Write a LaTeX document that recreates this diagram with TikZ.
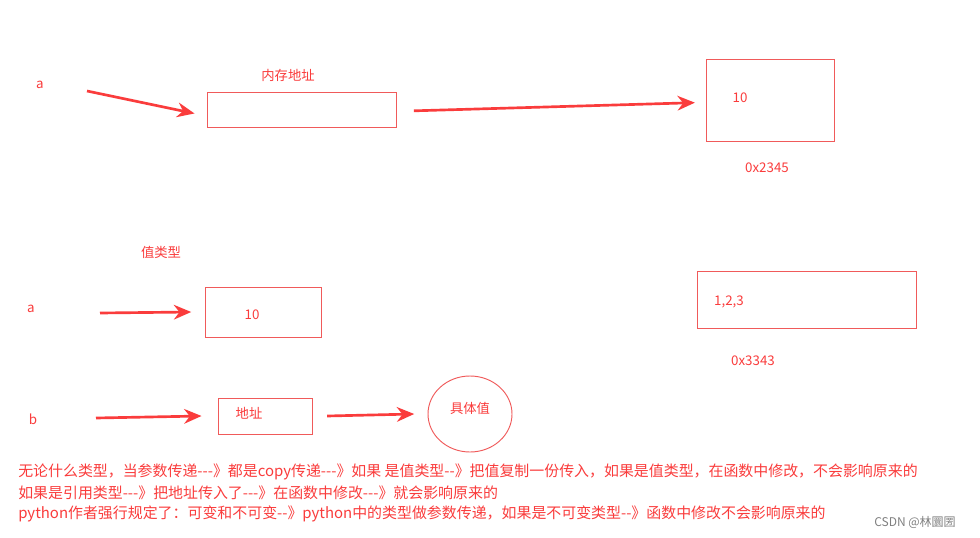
\documentclass[tikz,border=0pt]{standalone}
\usepackage{fontspec}
\setmainfont{Noto Sans CJK SC}
\usetikzlibrary{arrows.meta,shapes.geometric}
\definecolor{rd}{RGB}{250,60,60}
\definecolor{bx}{RGB}{240,90,90}
\newcommand{\ddd}{-{}-{}-}
\newcommand{\dd}{-{}-}
\begin{document}
\begin{tikzpicture}[x=0.75pt,y=-0.75pt,
  lbl/.style={text=rd,font=\fontsize{10}{12}\selectfont,inner sep=0},
  txt/.style={text=rd,font=\fontsize{11.2}{13}\selectfont,inner sep=0,anchor=west},
  box/.style={draw=bx,line width=0.7pt},
  arr/.style={draw=rd,line width=2pt,-{Stealth[length=13pt,width=11pt]}}]
\useasboundingbox (0,0) rectangle (980,538);
\fill[white] (0,0) rectangle (980,538);
% row 1
\node[lbl] (a1) at (40,85) {a};
\coordinate (t1) at (87,91);
\node[box,minimum width=141.75pt,minimum height=26.25pt] (mem) at (301.5,109.5) {};
\node[lbl] at (288,75) {内存地址};
\node[box,minimum width=96pt,minimum height=61.5pt] (v10) at (770,100) {};
\node[lbl] at (740,98) {10};
\node[lbl] at (767,168) {0x2345};
\draw[arr] (t1) -- ([xshift=-9pt,yshift=-3pt]mem.west);
\draw[arr] ([xshift=13pt,yshift=-1pt]mem.east) -- ([xshift=-8pt,yshift=-2pt]v10.west);
% row 2
\node[lbl] at (161,252) {值类型};
\node[lbl] (a2) at (31,309) {a};
\coordinate (t2) at (100,313);
\node[box,minimum width=87pt,minimum height=37.5pt] (b10) at (263,312) {};
\node[lbl] at (252,315) {10};
\draw[arr] (t2) -- ([xshift=-10pt]b10.west);
\node[box,minimum width=164.25pt,minimum height=42.75pt] (b123) at (806.5,299.5) {};
\node[lbl] at (729,302) {1,2,3};
\node[lbl] at (753,361) {0x3343};
% row 3
\node[lbl] (b) at (33,419) {b};
\coordinate (t3) at (96,418);
\node[box,minimum width=70.5pt,minimum height=27pt] (addr) at (265,416) {};
\node[lbl] at (249,413) {地址};
\node[draw=bx,line width=0.7pt,ellipse,minimum width=63pt,minimum height=57pt,inner sep=0] (val) at (470,414) {};
\node[lbl] at (470,408) {具体值};
\draw[arr] (t3) -- ([xshift=-12pt]addr.west);
\draw[arr] ([xshift=11pt]addr.east) -- ([xshift=-10pt]val.west);
% text
\node[txt] at (18,472) {无论什么类型，当参数传递\ddd》都是copy传递\ddd》如果 是值类型\dd》把值复制一份传入，如果是值类型，在函数中修改，不会影响原来的};
\node[txt] at (18,493) {如果是引用类型\ddd》把地址传入了\ddd》在函数中修改\ddd》就会影响原来的};
\node[txt] at (18,514) {python作者强行规定了：可变和不可变\dd》python中的类型做参数传递，如果是不可变类型\dd》函数中修改不会影响原来的};
\node[inner sep=0,text=gray,font=\fontsize{9}{11}\selectfont] at (915,522) {CSDN @林圜圐};
\end{tikzpicture}
\end{document}
